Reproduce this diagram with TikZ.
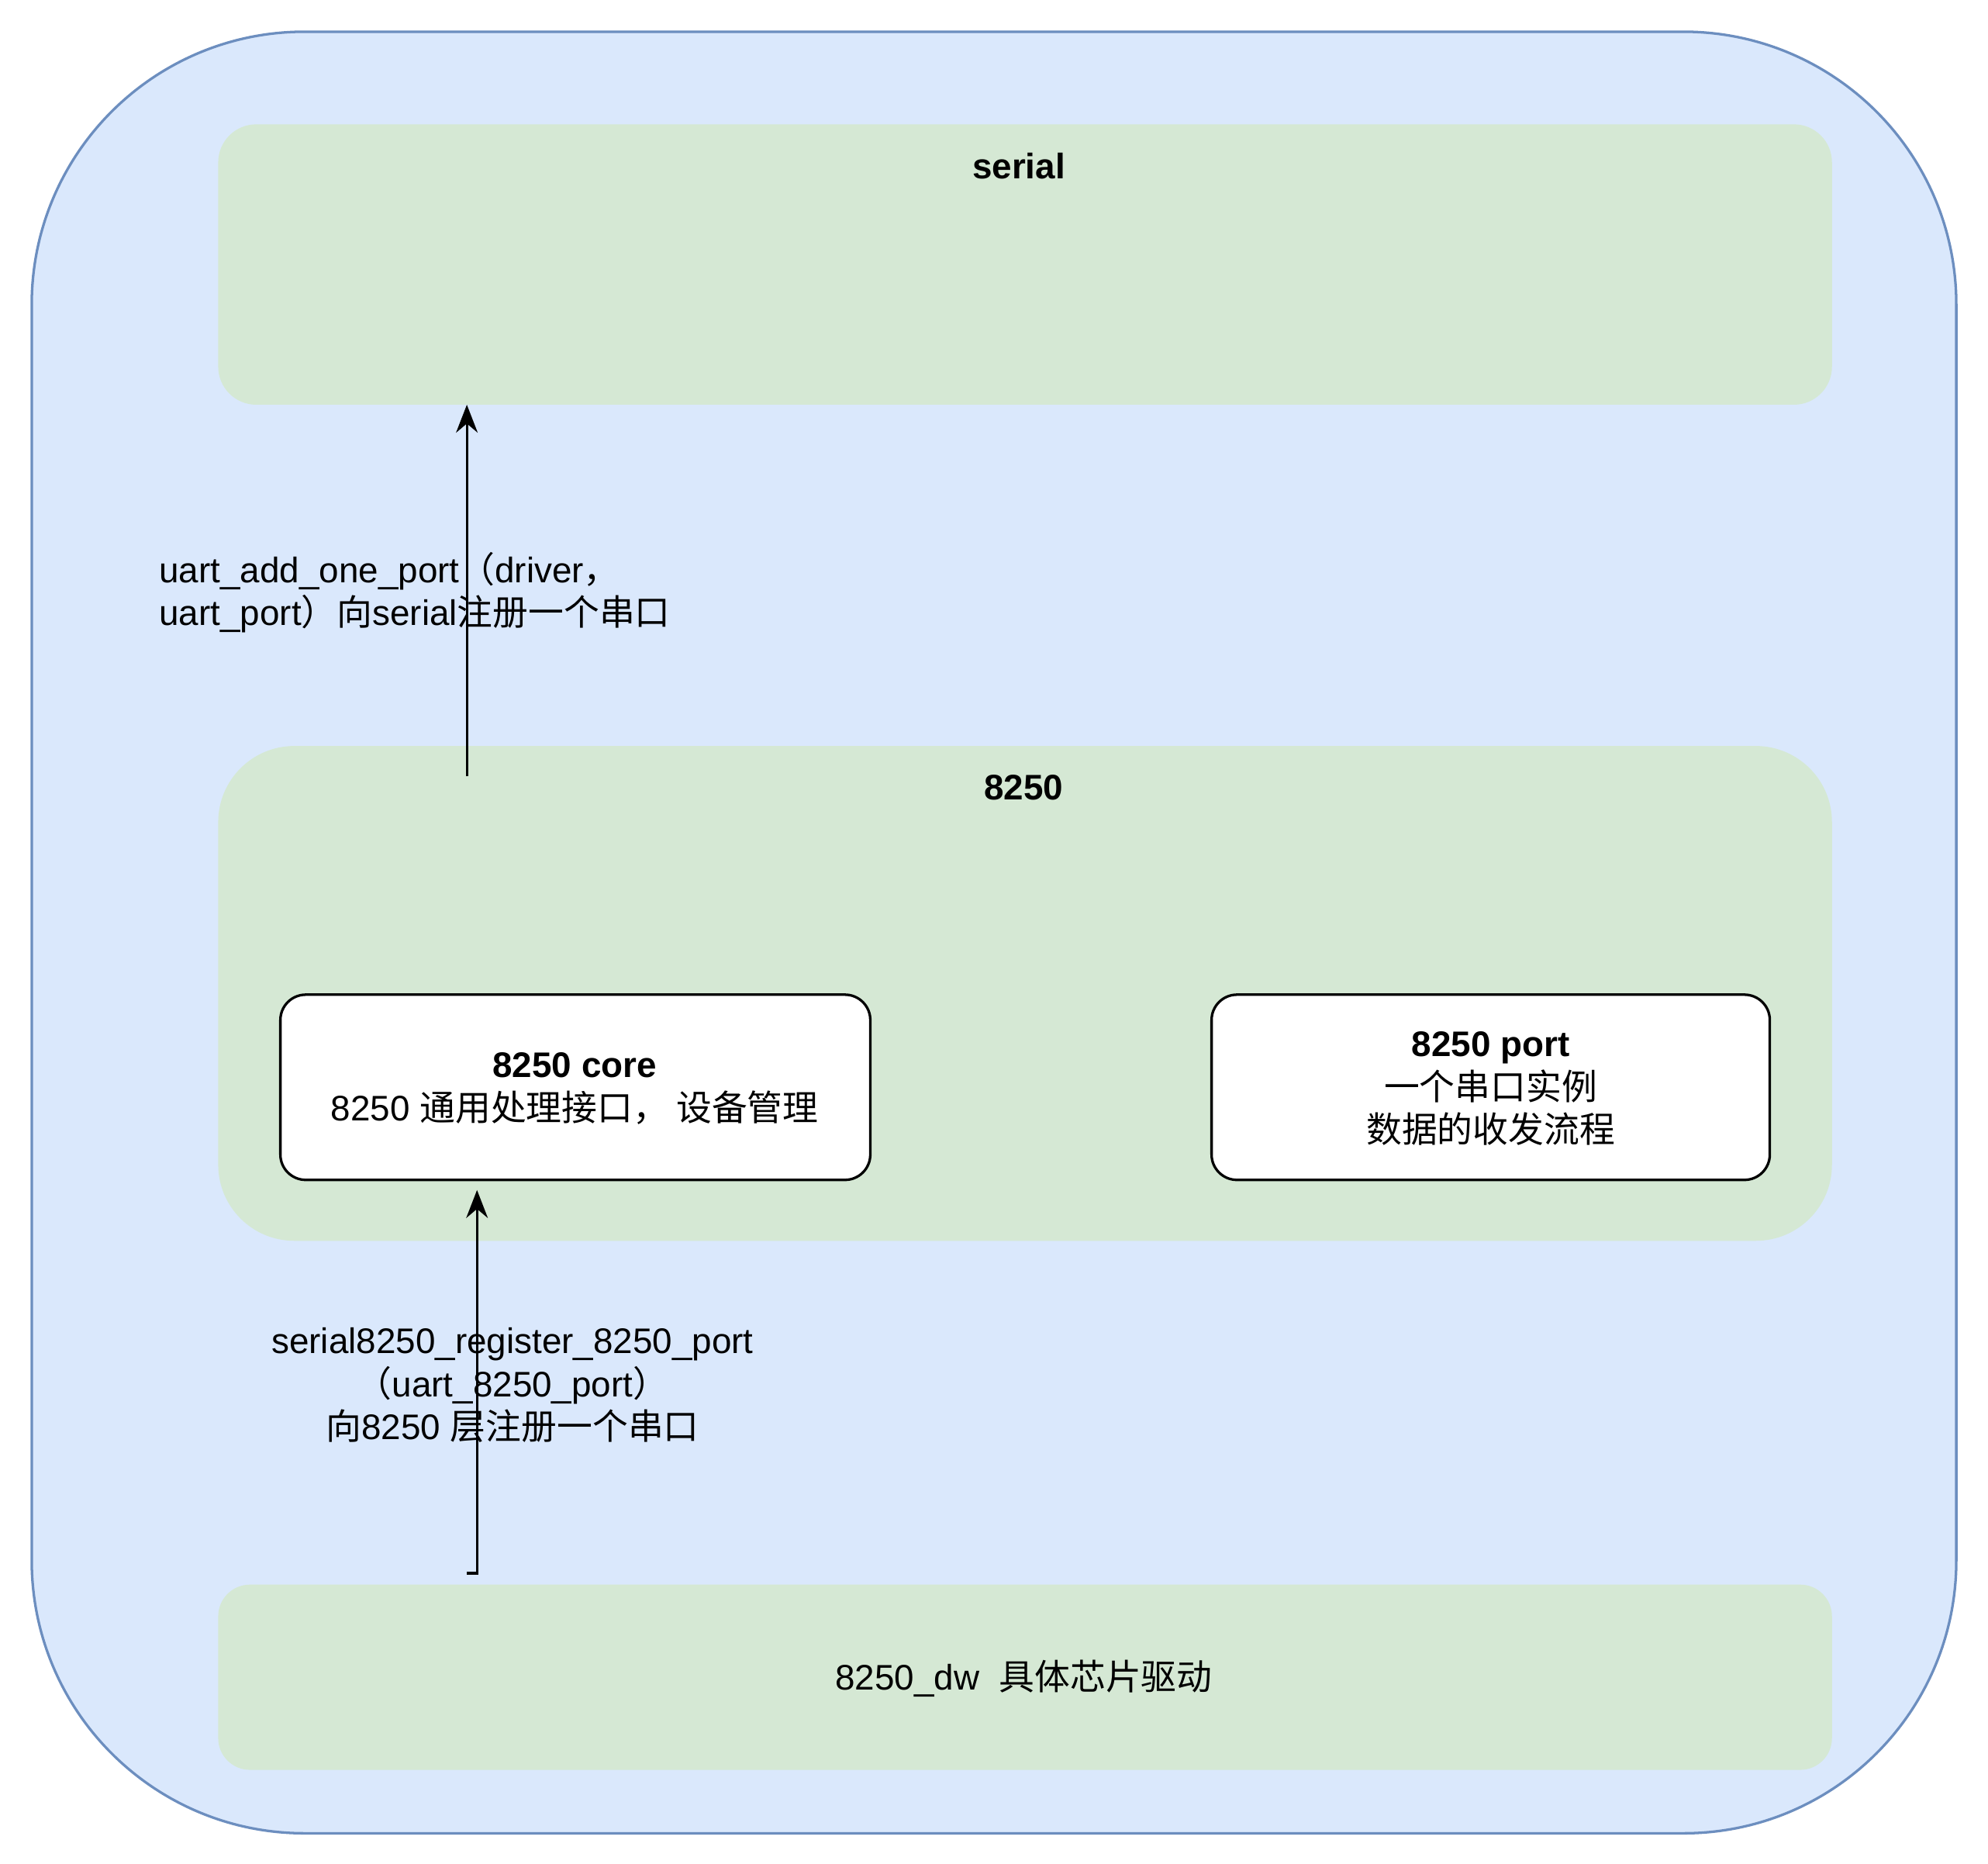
\documentclass[tikz,border=0pt]{standalone}
\usepackage{fontspec}
\setmainfont{Liberation Sans}
\newfontfamily\cjk{Noto Sans CJK SC}
\usetikzlibrary{arrows.meta}
\begin{document}
\begin{tikzpicture}[x=1pt,y=-1pt,
  every node/.style={font=\fontsize{28}{34}\selectfont},
  grp/.style={fill={rgb,255:red,213;green,232;blue,212},draw=none},
  card/.style={fill=white,draw=black,line width=2pt,rounded corners=20pt},
  arr/.style={-{Stealth[length=22pt,width=17pt]},line width=2pt}]
\useasboundingbox (0,0) rectangle (1567,1469);
\definecolor{outerf}{RGB}{218,232,252}\definecolor{outerd}{RGB}{108,142,191}
\draw[fill=outerf,draw=outerd,line width=2pt,rounded corners=215pt] (25,25) rectangle (1542,1445);
\fill[grp,rounded corners=30pt] (172,98) rectangle (1444,319);
\node[font=\fontsize{28}{34}\selectfont\bfseries] (serial) at (803,131) {serial};
\coordinate (serialin) at (368,319);
\fill[grp,rounded corners=60pt] (172,588) rectangle (1444,978);
\node[font=\fontsize{28}{34}\selectfont\bfseries] (l8250) at (807,621) {8250};
\coordinate (a1s) at (368,612);
\draw[card] (221,784) rectangle (686,930);
\node[align=center] (core) at (453,858) {\textbf{8250 core}\\8250 {\cjk 通用处理接口，\ 设备管理}};
\draw[card] (955,784) rectangle (1395,930);
\node[align=center] (port) at (1175,858) {\textbf{8250 port}\\{\cjk 一个串口实例}\\{\cjk 数据的收发流程}};
\fill[grp,rounded corners=25pt] (172,1249) rectangle (1444,1395);
\node (dw) at (807,1323) {8250\_dw\ \ {\cjk 具体芯片驱动}};
\coordinate (a2s) at (368,1240);
\coordinate (a2c) at (376,1240);
\coordinate (corein) at (376,938);
\draw[arr] (a1s) -- (serialin);
\draw[arr] (a2s) -- (a2c) -- (corein);
\node[align=left,anchor=west] (lab1) at (122,467) {uart\_add\_one\_port{\cjk（}driver{\cjk ，}\\uart\_port{\cjk ）向}serial{\cjk 注册一个串口}};
\node[align=center] (lab2) at (404,1092) {serial8250\_register\_8250\_port\\{\cjk（}uart\_8250\_port{\cjk ）}\\{\cjk 向}8250 {\cjk 层注册一个串口}};
\end{tikzpicture}
\end{document}
